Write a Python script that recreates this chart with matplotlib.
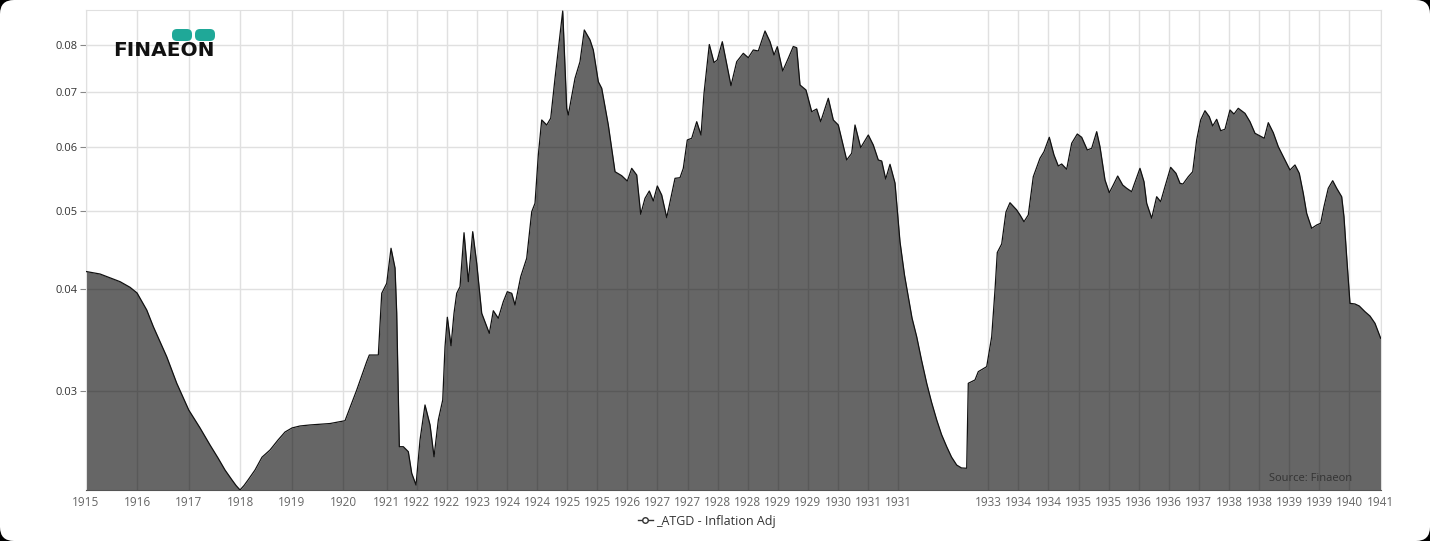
import numpy as np
import matplotlib
matplotlib.use("Agg")
import matplotlib.pyplot as plt
from matplotlib.lines import Line2D
from matplotlib.patches import FancyBboxPatch
from matplotlib.transforms import IdentityTransform

plt.rcParams['font.family'] = ['Open Sans', 'DejaVu Sans']

# ordinal position on the axis (one unit = one tick step in the dense part)
pos = [0.000, 0.469, 1.134, 1.466, 1.699, 2.021, 2.241, 2.463, 2.686, 3.019,
       3.418, 3.793, 4.126, 4.392, 4.624, 4.857, 4.990, 5.123, 5.256, 5.389,
       5.621, 5.854, 6.120, 6.386, 6.619, 6.852, 7.117, 7.450, 8.115, 8.614,
       9.003, 9.335, 9.422, 9.721, 9.834, 10.000, 10.143, 10.276, 10.332, 10.419,
       10.552, 10.718, 10.831, 10.974, 11.107, 11.273, 11.440, 11.573, 11.716, 11.862,
       11.938, 12.015, 12.138, 12.237, 12.327, 12.437, 12.570, 12.713, 12.859, 12.992,
       13.158, 13.411, 13.544, 13.710, 13.876, 14.009, 14.156, 14.265, 14.455, 14.654,
       14.821, 14.930, 15.040, 15.153, 15.319, 15.452, 15.595, 15.851, 15.984, 16.037,
       16.260, 16.426, 16.569, 16.759, 16.868, 17.035, 17.148, 17.367, 17.590, 17.812,
       17.999, 18.145, 18.311, 18.444, 18.587, 18.730, 18.863, 18.996, 19.142, 19.309,
       19.585, 19.751, 19.860, 19.993, 20.140, 20.306, 20.449, 20.549, 20.725, 20.881,
       20.991, 21.157, 21.446, 21.636, 21.855, 22.021, 22.188, 22.354, 22.577, 22.743,
       22.876, 22.985, 23.165, 23.351, 23.517, 23.630, 23.740, 23.939, 24.129, 24.295,
       24.428, 24.681, 24.847, 25.013, 25.292, 25.459, 25.569, 25.758, 26.011, 26.177,
       26.343, 26.456, 26.589, 26.732, 26.898, 27.064, 27.214, 27.340, 27.464, 27.620,
       27.780, 27.952, 28.112, 28.285, 28.445, 28.617, 28.777, 28.950, 29.109, 29.282,
       29.335, 29.558, 29.668, 29.947, 30.113, 30.223, 30.299, 30.446, 30.588, 30.721,
       30.944, 31.054, 31.187, 31.330, 31.496, 31.719, 31.852, 32.028, 32.184, 32.327,
       32.440, 32.606, 32.773, 32.959, 33.105, 33.291, 33.437, 33.604, 33.713, 33.880,
       34.023, 34.156, 34.302, 34.468, 34.601, 34.767, 34.844, 35.043, 35.176, 35.266,
       35.432, 35.598, 35.731, 35.874, 36.064, 36.240, 36.373, 36.473, 36.649, 36.796,
       36.928, 37.061, 37.204, 37.347, 37.460, 37.593, 37.726, 37.869, 38.036, 38.169,
       38.311, 38.534, 38.700, 38.866, 39.033, 39.176, 39.309, 39.475, 39.641, 39.864,
       40.030, 40.196, 40.339, 40.472, 40.585, 40.751, 40.918, 41.051, 41.160, 41.303,
       41.450, 41.583, 41.749, 41.825, 41.915, 42.025, 42.191, 42.334, 42.523, 42.689,
       42.856, 43.045]

atgd = [0.04208, 0.04178, 0.04088, 0.04023, 0.03959, 0.03772, 0.03597, 0.03447, 0.03303, 0.03063,
        0.02839, 0.02698, 0.02570, 0.02477, 0.02394, 0.02327, 0.02291, 0.02262, 0.02291, 0.02327,
        0.02394, 0.02483, 0.02534, 0.02607, 0.02667, 0.02698, 0.02713, 0.02721, 0.02732, 0.02754,
        0.03005, 0.03257, 0.03319, 0.03319, 0.03955, 0.04069, 0.04495, 0.04250, 0.03740, 0.02558,
        0.02558, 0.02522, 0.02372, 0.02294, 0.02607, 0.02880, 0.02721, 0.02486, 0.02760, 0.02921,
        0.03398, 0.03695, 0.03408, 0.03737, 0.03955, 0.04030, 0.04698, 0.04088, 0.04712, 0.04307,
        0.03737, 0.03530, 0.03764, 0.03684, 0.03862, 0.03973, 0.03955, 0.03826, 0.04146, 0.04369,
        0.04987, 0.05108, 0.05859, 0.06472, 0.06380, 0.06503, 0.07285, 0.08820, 0.06690, 0.06564,
        0.07285, 0.07637, 0.08357, 0.08123, 0.07895, 0.07215, 0.07081, 0.06380, 0.05587, 0.05524,
        0.05441, 0.05641, 0.05535, 0.04951, 0.05180, 0.05289, 0.05141, 0.05365, 0.05229, 0.04903,
        0.05483, 0.05493, 0.05641, 0.06114, 0.06144, 0.06440, 0.06201, 0.06981, 0.08019, 0.07619,
        0.07674, 0.08083, 0.07134, 0.07637, 0.07821, 0.07724, 0.07895, 0.07873, 0.08333, 0.08083,
        0.07784, 0.07970, 0.07438, 0.07711, 0.07974, 0.07946, 0.07148, 0.07047, 0.06626, 0.06677,
        0.06440, 0.06883, 0.06472, 0.06380, 0.05776, 0.05887, 0.06380, 0.05982, 0.06201, 0.06027,
        0.05776, 0.05760, 0.05472, 0.05706, 0.05411, 0.04580, 0.04166, 0.03917, 0.03687, 0.03496,
        0.03272, 0.03063, 0.02904, 0.02760, 0.02648, 0.02558, 0.02484, 0.02428, 0.02408, 0.02406,
        0.03063, 0.03092, 0.03166, 0.03211, 0.03496, 0.03992, 0.04441, 0.04550, 0.04983, 0.05116,
        0.05012, 0.04941, 0.04847, 0.04941, 0.05508, 0.05804, 0.05914, 0.06161, 0.05859, 0.05679,
        0.05711, 0.05626, 0.06057, 0.06219, 0.06161, 0.05943, 0.05971, 0.06260, 0.05999, 0.05457,
        0.05264, 0.05380, 0.05519, 0.05380, 0.05330, 0.05279, 0.05380, 0.05641, 0.05431, 0.05108,
        0.04895, 0.05204, 0.05131, 0.05354, 0.05657, 0.05562, 0.05406, 0.05395, 0.05508, 0.05587,
        0.06114, 0.06472, 0.06644, 0.06532, 0.06362, 0.06484, 0.06278, 0.06303, 0.06658, 0.06582,
        0.06690, 0.06595, 0.06440, 0.06232, 0.06184, 0.06144, 0.06422, 0.06242, 0.05999, 0.05776,
        0.05614, 0.05695, 0.05562, 0.05255, 0.04964, 0.04757, 0.04802, 0.04826, 0.05058, 0.05330,
        0.05446, 0.05330, 0.05204, 0.04917, 0.04389, 0.03844, 0.03837, 0.03815, 0.03754, 0.03708,
        0.03632, 0.03481]

tick_pos = [0, 1.70, 3.42, 5.13, 6.84, 8.55, 10, 11, 12, 13, 14, 15, 16, 17, 18, 19,
            20, 21, 22, 23, 24, 25, 26, 27, 30, 31, 32, 33, 34, 35, 36, 37, 38, 39,
            40, 41, 42, 43.045]
tick_lab = ["1915", "1916", "1917", "1918", "1919", "1920", "1921", "1922", "1922",
            "1923", "1924", "1924", "1925", "1925", "1926", "1927", "1927", "1928",
            "1928", "1929", "1929", "1930", "1931", "1931", "1933", "1934", "1934",
            "1935", "1935", "1936", "1936", "1937", "1938", "1938", "1939", "1939",
            "1940", "1941"]
y_ticks = [0.03, 0.04, 0.05, 0.06, 0.07, 0.08]

fig = plt.figure(figsize=(14.3, 5.41), dpi=100)
fig.patch.set_facecolor("black")
card = FancyBboxPatch((0, 0), 1430, 541, boxstyle="round,pad=0,rounding_size=14",
                      transform=IdentityTransform(), facecolor="white",
                      edgecolor="none", zorder=0)
fig.add_artist(card)

ax = fig.add_axes([0.0601, 0.0943, 0.9054, 0.8872])
ax.set_facecolor("none")
ax.set_yscale("log")
ybot, ytop = 0.02262, 0.08845
ax.set_ylim(ybot, ytop)
ax.set_xlim(0, 43.045)

ax.fill_between(pos, atgd, ybot, color="black", alpha=0.6, lw=0, zorder=2)
ax.plot(pos, atgd, color="#111111", lw=0.9, zorder=3)

ax.set_xticks(tick_pos)
ax.set_xticklabels(tick_lab)
ax.set_yticks(y_ticks)
ax.set_yticklabels(["%.2f" % v for v in y_ticks])
ax.yaxis.set_minor_locator(matplotlib.ticker.NullLocator())
ax.grid(True, color="#e0e0e0", lw=1, zorder=1)
ax.set_axisbelow(True)
ax.tick_params(axis="x", length=0, pad=4, labelsize=8.5, labelcolor="#666666")
ax.tick_params(axis="y", length=4, width=0.8, color="#888888", pad=2,
               labelsize=8, labelcolor="#333333")
for side in ["left", "right", "top"]:
    ax.spines[side].set_color("#e0e0e0")
ax.spines["bottom"].set_color("#555555")

ax.text(0.978, 0.023, "Source: Finaeon", transform=ax.transAxes, ha="right",
        va="center", fontsize=8, color="#333333", zorder=4)

# logo
fig.text(113 / 1430, 1 - 50 / 541, "FINAEON", fontsize=14.5, fontweight="heavy",
         color="#111111", ha="left", va="center", family="DejaVu Sans")
for x0 in [172, 195]:
    fig.add_artist(FancyBboxPatch((x0, 541 - 41), 20, 12,
                                  boxstyle="round,pad=0,rounding_size=5",
                                  transform=IdentityTransform(),
                                  facecolor="#1fa898", edgecolor="none", zorder=5))

handle = Line2D([], [], color="#333333", lw=1, marker="o", markersize=4,
                markerfacecolor="white", markeredgecolor="#333333")
fig.legend([handle], ["_ATGD - Inflation Adj"], loc="center",
           bbox_to_anchor=(707 / 1430, 1 - 521 / 541), frameon=False,
           fontsize=9, handlelength=1.2, handletextpad=0.3, labelcolor="#333333")

fig.savefig("out.png", dpi=100, facecolor=fig.get_facecolor())
